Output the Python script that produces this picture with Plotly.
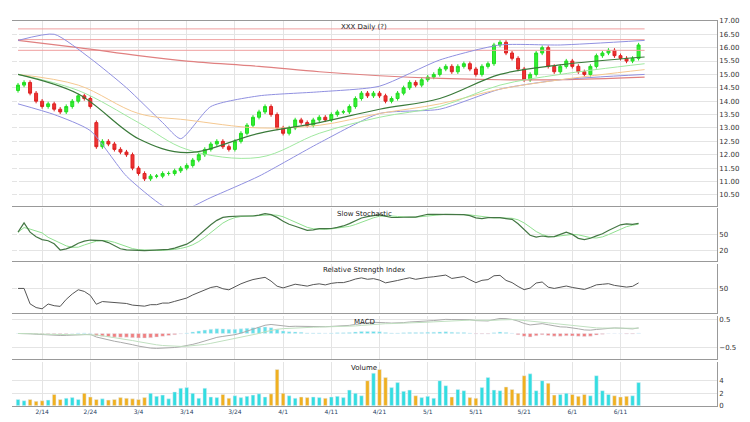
import plotly.graph_objects as go
import pandas as pd
import numpy as np

closes = [14.6,14.7,14.3,14.0,13.8,13.9,13.7,13.6,13.8,14.0,
          14.2,14.1,13.8,12.3,12.5,12.4,12.2,12.1,12.0,11.5,
          11.3,11.1,11.2,11.2,11.3,11.3,11.4,11.5,11.6,11.8,
          12.0,12.2,12.4,12.5,12.3,12.2,12.5,12.8,13.1,13.4,
          13.6,13.8,13.5,13.0,12.8,13.0,13.3,13.2,13.1,13.3,
          13.4,13.3,13.5,13.6,13.6,13.8,14.1,14.3,14.2,14.3,
          14.2,14.0,14.1,14.3,14.5,14.7,14.6,14.8,14.9,15.0,
          15.2,15.3,15.1,15.3,15.4,15.2,15.0,15.3,15.4,16.1,
          16.2,15.8,15.6,15.2,14.8,15.0,15.8,16.0,15.3,15.1,
          15.3,15.5,15.3,15.1,15.0,15.3,15.7,15.8,15.9,15.7,
          15.6,15.5,15.6,16.1]
opens = [14.4,14.6,14.7,14.3,14.0,13.8,13.9,13.7,13.6,13.8,
         14.0,14.2,14.1,13.2,12.3,12.5,12.4,12.2,12.1,12.0,
         11.5,11.3,11.1,11.2,11.2,11.3,11.3,11.4,11.5,11.6,
         11.8,12.0,12.2,12.4,12.5,12.3,12.2,12.5,12.8,13.1,
         13.4,13.6,13.8,13.5,13.0,12.8,13.0,13.3,13.2,13.1,
         13.3,13.4,13.3,13.5,13.6,13.6,13.8,14.1,14.3,14.2,
         14.3,14.2,14.0,14.1,14.3,14.5,14.7,14.6,14.8,14.9,
         15.0,15.2,15.3,15.1,15.3,15.4,15.2,15.0,15.3,15.4,
         16.1,16.2,15.8,15.6,15.2,14.8,15.0,15.8,16.0,15.3,
         15.1,15.3,15.5,15.3,15.1,15.0,15.3,15.7,15.8,15.9,
         15.7,15.6,15.5,15.6]
volume = [1.0,0.8,1.0,0.7,0.8,0.9,1.8,1.0,1.2,1.3,
          1.0,2.0,1.4,1.0,1.1,0.9,1.0,1.3,1.2,1.1,
          1.0,1.3,2.0,1.5,1.7,1.1,2.2,2.8,2.9,2.0,
          1.2,2.8,1.4,1.3,1.8,1.2,1.6,1.3,1.5,1.7,
          1.9,1.4,1.9,5.8,2.0,1.6,1.2,1.4,1.3,1.4,
          1.3,1.2,1.4,1.5,1.3,2.5,2.0,1.6,4.0,5.2,
          5.8,4.5,2.9,3.7,2.3,2.5,1.6,1.3,1.5,1.2,
          4.0,3.2,1.4,2.6,2.4,1.3,1.2,2.9,4.5,2.5,
          2.4,3.0,2.6,2.0,4.8,5.1,2.4,4.0,3.6,1.7,
          1.8,2.0,1.8,1.5,1.8,1.6,4.8,2.4,1.8,1.6,
          1.4,1.5,1.6,3.7]
band_idx = [0,6,12,18,24,27,32,40,50,60,70,80,90,104]
bb_upper = [16.27,16.5,15.6,14.5,13.2,12.6,13.8,14.2,14.35,14.56,15.54,16.1,16.1,16.27]
bb_lower = [13.9,13.5,12.9,11.2,10.1,9.9,10.4,11.2,12.44,13.54,13.7,14.45,14.8,15.0]
ma_idx = [0,10,20,28,40,50,60,70,80,90,104]
ma_fast = [15.0,14.27,12.6,12.08,12.8,13.2,13.7,14.1,15.0,15.36,15.65]
ma_mid = [15.0,14.4,13.2,12.2,11.9,12.8,13.4,13.8,14.6,15.0,15.4]
ma_slow = [15.0,14.6,13.54,13.3,13.0,13.1,13.54,13.9,14.45,14.8,15.18]
ma_200 = [16.27,16.0,15.7,15.5,15.3,15.1,14.95,14.85,14.8,14.8,14.9]
hlines = [16.7, 16.3, 15.9]
tick_idx = [4,12,20,28,36,44,52,60,68,76,84,92,100]
tick_lab = ["2/14","2/24","3/4","3/14","3/24","4/1","4/11","4/21","5/1","5/11","5/21","6/1","6/11"]

x = list(range(len(closes)))
highs = [max(o, c) + 0.08 for o, c in zip(opens, closes)]
lows = [min(o, c) - 0.08 for o, c in zip(opens, closes)]
s = pd.Series(closes)
lo, hi = s.rolling(14, min_periods=1).min(), s.rolling(14, min_periods=1).max()
k = (100 * (s - lo) / (hi - lo).replace(0, np.nan)).fillna(50).rolling(6, min_periods=1).mean()
k = 20 + 0.7 * k
d = k.rolling(4, min_periods=1).mean()
delta = s.diff().fillna(0)
up = delta.clip(lower=0).ewm(alpha=1/14).mean()
dn = (-delta.clip(upper=0)).ewm(alpha=1/14).mean()
rsi = (100 - 100 / (1 + up / dn.replace(0, np.nan))).fillna(50)
macd = s.ewm(span=12).mean() - s.ewm(span=26).mean()
sig = macd.ewm(span=9).mean()
hist = macd - sig

fig = go.Figure()
doms = {"y": [0.533, 0.988], "y2": [0.396, 0.526], "y3": [0.268, 0.39], "y4": [0.155, 0.26], "y5": [0.04, 0.148]}
for h in hlines:
    fig.add_trace(go.Scatter(x=[0, 104], y=[h, h], mode="lines", line=dict(color="#f0a0a0", width=1), showlegend=False))
fig.add_trace(go.Scatter(x=ma_idx, y=ma_200, mode="lines", line=dict(color="#e08080", width=1.2, shape="spline"), showlegend=False))
fig.add_trace(go.Scatter(x=band_idx, y=bb_upper, mode="lines", line=dict(color="#9090e0", width=1, shape="spline", smoothing=0.6), showlegend=False))
fig.add_trace(go.Scatter(x=band_idx, y=bb_lower, mode="lines", line=dict(color="#9090e0", width=1, shape="spline", smoothing=0.6), showlegend=False))
fig.add_trace(go.Scatter(x=ma_idx, y=ma_slow, mode="lines", line=dict(color="#f5c890", width=1, shape="spline"), showlegend=False))
fig.add_trace(go.Scatter(x=ma_idx, y=ma_mid, mode="lines", line=dict(color="#a0e8a0", width=1, shape="spline"), showlegend=False))
fig.add_trace(go.Scatter(x=ma_idx, y=ma_fast, mode="lines", line=dict(color="#3a7a3a", width=1.2, shape="spline"), showlegend=False))
fig.add_trace(go.Candlestick(x=x, open=opens, high=highs, low=lows, close=closes,
    increasing=dict(line=dict(color="#22dd22", width=1), fillcolor="#33ee33"),
    decreasing=dict(line=dict(color="#dd2222", width=1), fillcolor="#ee3333"), showlegend=False))
fig.add_trace(go.Scatter(x=x, y=d, mode="lines", line=dict(color="#90e090", width=1), yaxis="y2", showlegend=False))
fig.add_trace(go.Scatter(x=x, y=k, mode="lines", line=dict(color="#447744", width=1.2), yaxis="y2", showlegend=False))
fig.add_trace(go.Scatter(x=x, y=rsi, mode="lines", line=dict(color="#555555", width=1), yaxis="y3", showlegend=False))
fig.add_trace(go.Bar(x=x, y=hist, marker_color=["#66e0e8" if v >= 0 else "#f08080" for v in hist], yaxis="y4", showlegend=False))
fig.add_trace(go.Scatter(x=x, y=macd, mode="lines", line=dict(color="#aaaaaa", width=1), yaxis="y4", showlegend=False))
fig.add_trace(go.Scatter(x=x, y=sig, mode="lines", line=dict(color="#c0e0c0", width=1), yaxis="y4", showlegend=False))
vcol = ["#33dde0" if c >= o else "#f0b020" for o, c in zip(opens, closes)]
fig.add_trace(go.Bar(x=x, y=volume, marker_color=vcol, width=0.6, yaxis="y5", showlegend=False))

grid = dict(showgrid=True, gridcolor="#e4e4e4", zeroline=False, side="right", showline=True, linecolor="#999",
            tickfont=dict(size=7, color="#333"), ticks="")
lay = dict(width=750, height=422, margin=dict(l=4, r=4, t=4, b=4), paper_bgcolor="white", plot_bgcolor="white",
           bargap=0.4, font=dict(family="DejaVu Sans", size=7),
           xaxis=dict(range=[-1, 116], domain=[0, 0.95], rangeslider=dict(visible=False), showgrid=True,
                      gridcolor="#e4e4e4", tickvals=tick_idx, showticklabels=False,
                      showline=True, linecolor="#999", mirror=True, anchor="y"))
lay["yaxis"] = dict(grid, domain=doms["y"], range=[10.1, 17.0], dtick=0.5, tickformat=".2f")
lay["yaxis2"] = dict(grid, domain=doms["y2"], range=[0, 100], tickvals=[20, 50], anchor="x2")
lay["yaxis3"] = dict(grid, domain=doms["y3"], range=[0, 100], tickvals=[50], anchor="x3")
lay["yaxis4"] = dict(grid, domain=doms["y4"], range=[-0.9, 0.6], tickvals=[-0.5, 0.5], anchor="x4")
lay["yaxis5"] = dict(grid, domain=doms["y5"], range=[0, 7], tickvals=[0, 2, 4], anchor="x5")
for i in range(2, 6):
    lay[f"xaxis{i}"] = dict(matches="x", domain=[0, 0.95], showticklabels=(i == 5), showgrid=True, gridcolor="#e4e4e4",
                            tickvals=tick_idx, ticktext=tick_lab, tickfont=dict(size=6),
                            showline=True, linecolor="#999", anchor=f"y{i}")
fig.update_layout(**lay)
for t in fig.data:
    ya = t.yaxis or "y"
    if ya != "y":
        t.xaxis = "x" + ya[1:]
titles = [("XXX Daily (?)", doms["y"][1]), ("Slow Stochastic", doms["y2"][1]), ("Relative Strength Index", doms["y3"][1]),
          ("MACD", doms["y4"][1]), ("Volume", doms["y5"][1])]
for t, yy in titles:
    fig.add_annotation(text=t, x=0.5 * 0.95, y=yy, xref="paper", yref="paper", yanchor="top", showarrow=False,
                       font=dict(size=7, color="#222"))
fig.write_html("out.html")
